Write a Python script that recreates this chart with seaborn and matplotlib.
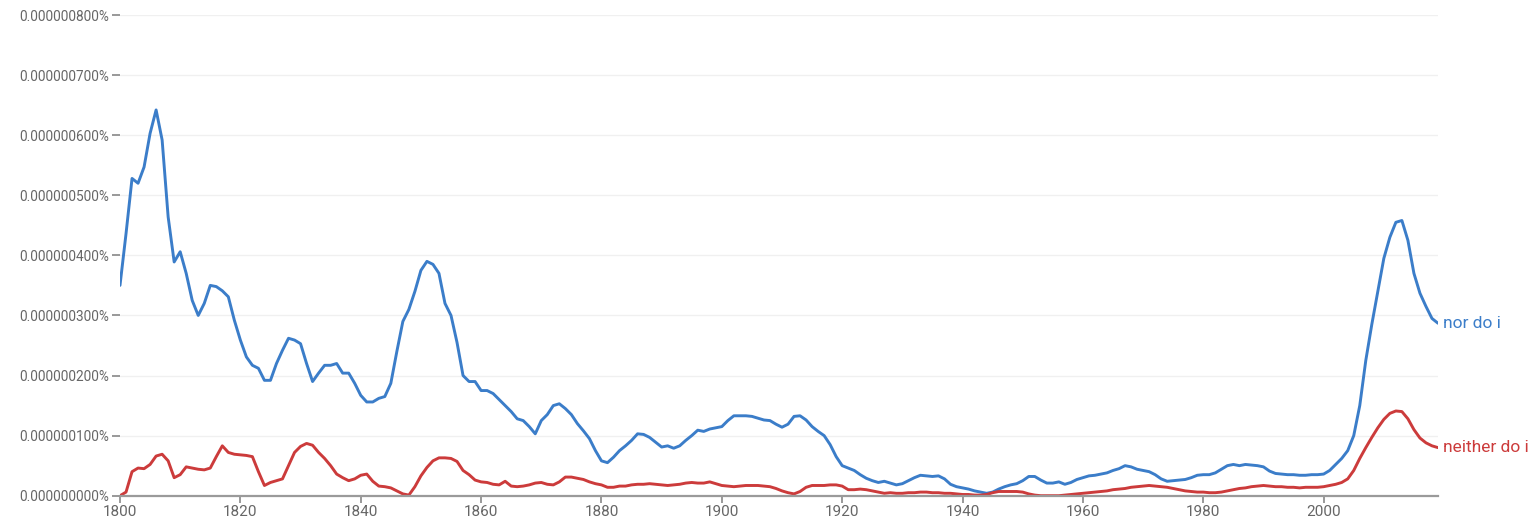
import numpy as np
import pandas as pd
import matplotlib
matplotlib.use("Agg")
import matplotlib.pyplot as plt
import seaborn as sns

# values in units of 1e-9 percent (i.e. 100 -> 0.000000100%)
years = list(range(1800, 2020))

nor_do_i = [
    350, 436, 528, 520, 547, 603, 642, 592, 464, 389,
    406, 370, 325, 300, 320, 350, 348, 341, 331, 292,
    259, 231, 217, 212, 192, 192, 220, 242, 262, 259,
    253, 220, 190, 204, 217, 217, 220, 204, 204, 187,
    167, 156, 156, 162, 165, 187, 240, 290, 310, 340,
    375, 390, 385, 370, 320, 300, 255, 200, 190, 190,
    175, 175, 170, 160, 150, 140, 128, 125, 115, 103,
    125, 135, 150, 153, 145, 135, 120, 108, 95, 75,
    58, 55, 64, 75, 83, 92, 103, 102, 97, 89,
    81, 83, 79, 83, 92, 100, 109, 107, 111, 113,
    115, 125, 133, 133, 133, 132, 129, 126, 125, 119,
    114, 119, 132, 133, 126, 115, 107, 100, 85, 65,
    50, 46, 42, 35, 29, 25, 22, 24, 21, 18,
    20, 25, 30, 34, 33, 32, 33, 28, 19, 15,
    13, 11, 8, 6, 4, 6, 11, 15, 18, 20,
    25, 32, 32, 26, 21, 21, 23, 19, 22, 27,
    30, 33, 34, 36, 38, 42, 45, 50, 48, 44,
    42, 40, 35, 28, 24, 25, 26, 27, 30, 34,
    35, 35, 38, 44, 50, 52, 50, 52, 51, 50,
    48, 41, 37, 36, 35, 35, 34, 34, 35, 35,
    36, 42, 52, 62, 75, 100, 150, 225, 285, 340,
    395, 430, 455, 458, 425, 370, 337, 315, 295, 287,
]

neither_do_i = [
    0, 6, 40, 46, 45, 52, 66, 69, 58, 30,
    35, 48, 46, 44, 43, 46, 65, 83, 72, 69,
    68, 67, 65, 40, 17, 22, 25, 28, 50, 72,
    82, 87, 84, 72, 62, 50, 36, 30, 25, 28,
    34, 36, 24, 16, 15, 13, 8, 3, 1, 15,
    33, 47, 58, 63, 63, 62, 57, 42, 35, 26,
    23, 22, 19, 18, 24, 16, 15, 16, 18, 21,
    22, 19, 18, 23, 31, 31, 29, 27, 23, 20,
    18, 14, 14, 16, 16, 18, 19, 19, 20, 19,
    18, 17, 18, 19, 21, 22, 21, 21, 23, 20,
    17, 16, 15, 16, 17, 17, 17, 16, 15, 12,
    8, 5, 3, 7, 14, 17, 17, 17, 18, 18,
    16, 10, 10, 11, 10, 8, 6, 4, 5, 4,
    4, 5, 5, 6, 6, 5, 5, 4, 4, 3,
    2, 2, 1, 1, 2, 5, 7, 7, 7, 7,
    6, 3, 1, 0, 0, 0, 0, 1, 2, 3,
    4, 5, 6, 7, 8, 10, 11, 12, 14, 15,
    16, 17, 16, 15, 14, 12, 10, 8, 7, 6,
    6, 5, 5, 6, 8, 10, 12, 13, 15, 16,
    17, 16, 15, 15, 14, 14, 13, 14, 14, 14,
    15, 17, 19, 22, 28, 42, 62, 80, 97, 113,
    127, 137, 141, 140, 128, 110, 96, 88, 83, 80,
]

series_names = ["nor do i", "neither do i"]
series_colors = ["#3b7dc9", "#cc3b3b"]
x_ticks = [1800, 1820, 1840, 1860, 1880, 1900, 1920, 1940, 1960, 1980, 2000]
y_ticks = [0, 100, 200, 300, 400, 500, 600, 700, 800]

df = pd.DataFrame({
    "year": years * 2,
    "value": nor_do_i + neither_do_i,
    "ngram": [series_names[0]] * len(years) + [series_names[1]] * len(years),
})

sns.set_theme(style="white")
plt.rcParams["font.family"] = ["Roboto", "DejaVu Sans"]

fig = plt.figure(figsize=(15.36, 5.26), dpi=100)
ax = fig.add_axes([120 / 1536, 1 - 495.7 / 526, (1438 - 120) / 1536, (495.7 - 15) / 526])

sns.lineplot(data=df, x="year", y="value", hue="ngram", palette=series_colors,
             hue_order=series_names, linewidth=2.1, legend=False, ax=ax)
for ln in ax.get_lines():
    ln.set_solid_joinstyle("round")
    ln.set_solid_capstyle("round")

ax.set_xlim(1800, 2019)
ax.set_ylim(0, 800)
ax.set_xticks(x_ticks)
ax.set_xticklabels([str(t) for t in x_ticks])
ax.set_yticks(y_ticks)
ax.set_yticklabels([f"{t * 1e-9:.9f}%" for t in y_ticks])
ax.set_xlabel("")
ax.set_ylabel("")

for s in ["top", "right", "left"]:
    ax.spines[s].set_visible(False)
ax.spines["bottom"].set_color("#9a9a9a")
ax.spines["bottom"].set_linewidth(1.6)

ax.yaxis.grid(True, color="#f0f0f0", linewidth=1)
ax.xaxis.grid(False)
ax.set_axisbelow(True)

ax.tick_params(axis="y", which="both", left=True, length=6, width=1.2, color="#888888",
               labelsize=9.8, labelcolor="#666666", pad=2)
ax.tick_params(axis="x", which="both", bottom=True, length=5, width=1.2, color="#888888",
               labelsize=11, labelcolor="#666666", pad=2)

# end labels
ax.text(years[-1] + 0.8, nor_do_i[-1], series_names[0], color=series_colors[0],
        fontsize=12.5, va="center", ha="left", clip_on=False)
ax.text(years[-1] + 0.8, neither_do_i[-1], series_names[1], color=series_colors[1],
        fontsize=12.5, va="center", ha="left", clip_on=False)

fig.savefig("out.png", dpi=100)
